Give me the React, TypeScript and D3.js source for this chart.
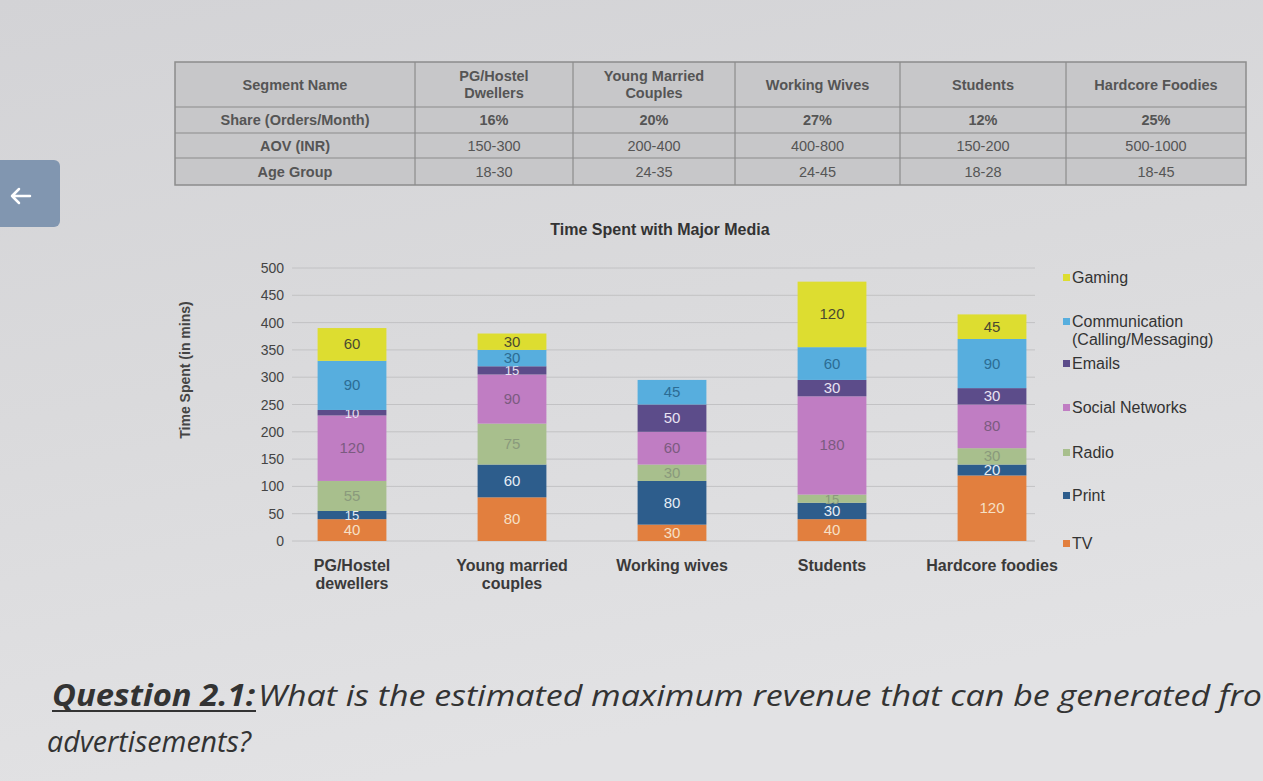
import React from "react";
import * as d3 from "d3";

const W = 1263;
const H = 781;

const categories = [
  ["PG/Hostel", "dewellers"],
  ["Young married", "couples"],
  ["Working wives"],
  ["Students"],
  ["Hardcore foodies"],
];
const seriesNames = ["TV", "Print", "Radio", "Social Networks", "Emails", "Communication (Calling/Messaging)", "Gaming"];
const tvValues = [40, 80, 30, 40, 120];
const printValues = [15, 60, 80, 30, 20];
const radioValues = [55, 75, 30, 15, 30];
const socialValues = [120, 90, 60, 180, 80];
const emailValues = [10, 15, 50, 30, 30];
const commValues = [90, 30, 45, 60, 90];
const gamingValues = [60, 30, 0, 120, 45];
const yTicks = [0, 50, 100, 150, 200, 250, 300, 350, 400, 450, 500];

const tableHeaders = [["Segment Name"], ["PG/Hostel", "Dwellers"], ["Young Married", "Couples"], ["Working Wives"], ["Students"], ["Hardcore Foodies"]];
const shareRow = ["Share (Orders/Month)", "16%", "20%", "27%", "12%", "25%"];
const aovRow = ["AOV (INR)", "150-300", "200-400", "400-800", "150-200", "500-1000"];
const ageRow = ["Age Group", "18-30", "24-35", "24-45", "18-28", "18-45"];

const colors = ["#e27f3e", "#2d5d8c", "#a8bf8d", "#c07dc3", "#5c4c8a", "#57aede", "#dddd30"];
const labelColors = ["#f6e0c6", "#e6edf5", "#8a9a7c", "#7b5b80", "#e8e2f2", "#2c6c94", "#4a4a30"];
const legendOrder = [6, 5, 4, 3, 2, 1, 0];
const legendY = [278, 322, 364, 408, 453, 496, 544];

export default function App() {
  const seriesValues = [tvValues, printValues, radioValues, socialValues, emailValues, commValues, gamingValues];
  const rows = categories.map((c, i) => {
    const o: any = { key: String(i) };
    seriesNames.forEach((s, j) => (o[s] = seriesValues[j][i]));
    return o;
  });
  const stack = d3.stack().keys(seriesNames)(rows as any);

  const x = d3
    .scaleBand()
    .domain(categories.map((_, i) => String(i)))
    .range([272, 1072])
    .paddingInner(0.57)
    .paddingOuter(0.285);
  const y = d3.scaleLinear().domain([0, 500]).range([541, 268]);

  const colX = [175, 415, 573, 735, 900, 1066, 1246];
  const rowY = [62, 107, 133, 158, 185];
  const font = "Liberation Sans, Arial, sans-serif";

  return (
    <svg width={W} height={H} style={{ position: "absolute", left: 0, top: 0 }} fontFamily={font}>
      <defs>
        <linearGradient id="bg" x1="0" y1="0" x2="0.3" y2="1">
          <stop offset="0" stopColor="#d3d3d6" />
          <stop offset="0.5" stopColor="#dadadc" />
          <stop offset="1" stopColor="#e2e2e4" />
        </linearGradient>
      </defs>
      <rect x={0} y={0} width={W} height={H} fill="url(#bg)" />

      {/* back button */}
      <rect x={-10} y={160} width={70} height={67} rx={6} fill="#8196b0" />
      <path d="M12 196 L30 196 M12 196 L19 189 M12 196 L19 203" stroke="#ffffff" strokeWidth={2.5} fill="none" strokeLinecap="round" />

      {/* table */}
      <rect x={colX[0]} y={rowY[0]} width={colX[6] - colX[0]} height={rowY[4] - rowY[0]} fill="#c7c7c9" stroke="#8c8c8c" strokeWidth={1.5} />
      {rowY.slice(1, 4).map((ry) => (
        <line key={ry} x1={colX[0]} x2={colX[6]} y1={ry} y2={ry} stroke="#8c8c8c" strokeWidth={1.2} />
      ))}
      {colX.slice(1, 6).map((cx) => (
        <line key={cx} x1={cx} x2={cx} y1={rowY[0]} y2={rowY[4]} stroke="#8c8c8c" strokeWidth={1.2} />
      ))}
      {tableHeaders.map((h, i) => {
        const cx = (colX[i] + colX[i + 1]) / 2;
        const cy = (rowY[0] + rowY[1]) / 2;
        return (
          <text key={"h" + i} x={cx} textAnchor="middle" fontSize={14.5} fontWeight="bold" fill="#555">
            {h.map((line, k) => (
              <tspan key={k} x={cx} y={cy + 5 + (k - (h.length - 1) / 2) * 17}>
                {line}
              </tspan>
            ))}
          </text>
        );
      })}
      {[shareRow, aovRow, ageRow].map((row, r) =>
        row.map((v, i) => (
          <text
            key={"r" + r + i}
            x={(colX[i] + colX[i + 1]) / 2}
            y={(rowY[r + 1] + rowY[r + 2]) / 2 + 5}
            textAnchor="middle"
            fontSize={14.5}
            fontWeight={r === 0 || i === 0 ? "bold" : "normal"}
            fill="#555"
          >
            {v}
          </text>
        ))
      )}

      {/* chart title */}
      <text x={660} y={235} textAnchor="middle" fontSize={16} fontWeight="bold" fill="#333">
        Time Spent with Major Media
      </text>

      {/* grid */}
      {yTicks.map((t) => (
        <g key={t}>
          <line x1={292} x2={1035} y1={y(t)} y2={y(t)} stroke="#c2c2c4" strokeWidth={1} />
          <text x={284} y={y(t) + 5} textAnchor="end" fontSize={14} fill="#444">
            {t}
          </text>
        </g>
      ))}
      <text transform="translate(190,370) rotate(-90)" textAnchor="middle" fontSize={14} fontWeight="bold" fill="#444">
        Time Spent (in mins)
      </text>

      {/* bars */}
      {stack.map((s, si) => (
        <g key={s.key}>
          {s.map((d, ci) => {
            const v = d[1] - d[0];
            if (v <= 0) return null;
            const bx = x(String(ci))!;
            const bw = x.bandwidth();
            return (
              <g key={ci}>
                <rect x={bx} y={y(d[1])} width={bw} height={y(d[0]) - y(d[1])} fill={colors[si]} />
                <text x={bx + bw / 2} y={(y(d[0]) + y(d[1])) / 2 + 5} textAnchor="middle" fontSize={v < 20 ? 13 : 15} fill={labelColors[si]}>
                  {v}
                </text>
              </g>
            );
          })}
        </g>
      ))}

      {/* category labels */}
      {categories.map((c, i) => {
        const cx = x(String(i))! + x.bandwidth() / 2;
        return (
          <text key={"c" + i} textAnchor="middle" fontSize={16} fontWeight="bold" fill="#3a3a3a">
            {c.map((line, k) => (
              <tspan key={k} x={cx} y={571 + k * 18}>
                {line}
              </tspan>
            ))}
          </text>
        );
      })}

      {/* legend */}
      {legendOrder.map((si, k) => {
        const ly = legendY[k];
        const name = seriesNames[si];
        const lines = si === 5 ? ["Communication", "(Calling/Messaging)"] : [name];
        return (
          <g key={"l" + si}>
            <rect x={1063} y={ly - 4} width={7} height={7} fill={colors[si]} />
            <text fontSize={16} fill="#333">
              {lines.map((line, j) => (
                <tspan key={j} x={1072} y={ly + 5 + j * 18}>
                  {line}
                </tspan>
              ))}
            </text>
          </g>
        );
      })}

      {/* question text */}
      <text y={706} fontSize={30} fontStyle="italic" fill="#333" fontFamily="Open Sans, sans-serif">
        <tspan x={52} fontWeight="bold" textLength={203} lengthAdjust="spacingAndGlyphs">
          Question 2.1:
        </tspan>
        <tspan x={258} textLength={1004} lengthAdjust="spacingAndGlyphs">
          What is the estimated maximum revenue that can be generated fro
        </tspan>
      </text>
      <line x1={52} x2={256} y1={711} y2={711} stroke="#333" strokeWidth={2} />
      <text x={47} y={752} fontSize={30} fontStyle="italic" fill="#333" fontFamily="Open Sans, sans-serif" textLength={204} lengthAdjust="spacingAndGlyphs">
        advertisements?
      </text>
    </svg>
  );
}
